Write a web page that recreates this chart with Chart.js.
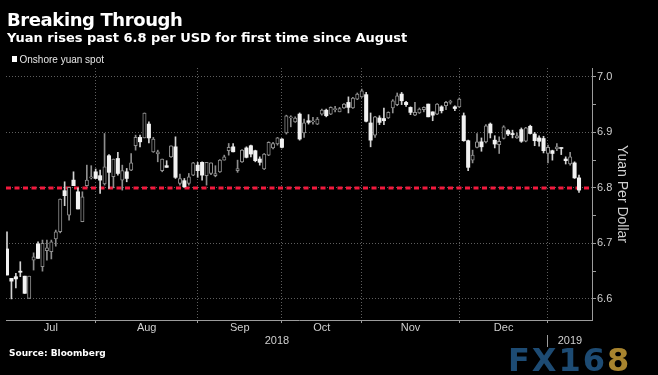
<!DOCTYPE html>
<html><head><meta charset="utf-8">
<script src="https://cdn.jsdelivr.net/npm/chart.js@4.4.1/dist/chart.umd.min.js"></script>
<style>
html,body{margin:0;padding:0;background:#000;}
#wrap{position:relative;width:658px;height:375px;background:#000;overflow:hidden;}
#c{position:absolute;left:0;top:0;}
.t{position:absolute;white-space:nowrap;color:#fff;line-height:1;}
#title{left:7px;top:10.8px;font-weight:bold;font-size:18px;font-family:"DejaVu Sans";letter-spacing:-0.4px;}
#sub{left:7px;top:30.7px;font-weight:bold;font-size:13px;font-family:"DejaVu Sans";}
#leg{left:19.5px;top:54.5px;font-size:10px;font-family:"Liberation Sans";color:#e6e6e6;}
#sq{position:absolute;left:12px;top:56px;width:5px;height:6px;background:#fff;}
#src{left:9px;top:349px;font-weight:bold;font-size:9px;font-family:"DejaVu Sans";}
#logo{left:508px;top:343.6px;font-weight:bold;font-size:32px;font-family:"DejaVu Sans";letter-spacing:2px;color:#1d4b73;}
#logo b{color:#a8842e;}
</style></head><body>
<div id="wrap">
<canvas id="c" width="658" height="375"></canvas>
<div class="t" id="title">Breaking Through</div>
<div class="t" id="sub">Yuan rises past 6.8 per USD for first time since August</div>
<div id="sq"></div>
<div class="t" id="leg">Onshore yuan spot</div>
<div class="t" id="src">Source: Bloomberg</div>
<div class="t" id="logo">FX16<b>8</b></div>
</div>
<script>
// Daily USD/CNY candles, early Jul 2018 .. mid Jan 2019 (trading-day index)
const opens = [
6.690,6.637,6.640,6.650,6.641,6.601,6.670,6.699,6.658,6.687,
6.685,6.708,6.721,6.795,6.751,6.814,6.793,6.739,6.804,6.818,
6.829,6.822,6.807,6.858,6.820,6.853,6.814,6.829,6.832,6.876,
6.891,6.890,6.915,6.865,6.861,6.831,6.840,6.856,6.874,6.808,
6.813,6.808,6.823,6.841,6.846,6.822,6.826,6.822,6.829,6.850,
6.867,6.874,6.831,6.847,6.872,6.876,6.867,6.852,6.834,6.859,
6.872,6.879,6.888,6.899,6.926,6.919,6.933,6.899,6.921,6.919,
6.915,6.933,6.940,6.933,6.941,6.937,6.944,6.954,6.944,6.960,
6.964,6.968,6.917,6.895,6.926,6.925,6.926,6.944,6.950,6.969,
6.954,6.945,6.931,6.935,6.941,6.951,6.937,6.933,6.946,6.948,
6.954,6.946,6.946,6.930,6.885,6.850,6.873,6.883,6.883,6.915,
6.886,6.878,6.889,6.903,6.898,6.890,6.905,6.884,6.911,6.897,
6.890,6.889,6.862,6.867,6.870,6.872,6.852,6.843,6.845,6.818];
const highs = [
6.721,6.637,6.646,6.667,6.641,6.641,6.683,6.703,6.706,6.706,
6.706,6.724,6.780,6.811,6.801,6.829,6.800,6.793,6.841,6.840,
6.834,6.832,6.898,6.860,6.852,6.864,6.841,6.835,6.862,6.895,
6.895,6.935,6.919,6.891,6.868,6.852,6.849,6.876,6.892,6.825,
6.817,6.826,6.846,6.846,6.847,6.846,6.845,6.840,6.851,6.859,
6.880,6.880,6.850,6.869,6.874,6.877,6.868,6.856,6.862,6.883,
6.882,6.891,6.889,6.931,6.930,6.928,6.935,6.924,6.932,6.927,
6.927,6.942,6.942,6.946,6.947,6.945,6.952,6.964,6.963,6.971,
6.978,6.972,6.935,6.929,6.930,6.944,6.937,6.959,6.971,6.972,
6.956,6.946,6.954,6.944,6.946,6.951,6.937,6.952,6.948,6.956,
6.958,6.948,6.962,6.935,6.886,6.868,6.898,6.890,6.914,6.917,
6.894,6.892,6.912,6.905,6.904,6.899,6.908,6.909,6.913,6.900,
6.894,6.893,6.877,6.868,6.880,6.872,6.856,6.864,6.847,6.823];
const lows = [
6.643,6.600,6.620,6.640,6.610,6.601,6.652,6.673,6.650,6.670,
6.672,6.695,6.719,6.768,6.742,6.804,6.762,6.739,6.803,6.816,
6.817,6.790,6.805,6.799,6.800,6.823,6.796,6.811,6.831,6.868,
6.874,6.890,6.881,6.864,6.847,6.829,6.837,6.855,6.817,6.805,
6.801,6.805,6.822,6.819,6.814,6.805,6.824,6.820,6.828,6.850,
6.859,6.865,6.828,6.846,6.854,6.856,6.847,6.841,6.833,6.858,
6.870,6.877,6.872,6.897,6.910,6.918,6.886,6.891,6.915,6.915,
6.914,6.931,6.928,6.932,6.937,6.937,6.943,6.935,6.943,6.959,
6.963,6.919,6.874,6.891,6.914,6.914,6.925,6.935,6.948,6.950,
6.947,6.932,6.930,6.934,6.937,6.928,6.921,6.932,6.935,6.941,
6.951,6.939,6.945,6.884,6.831,6.845,6.872,6.866,6.881,6.890,
6.872,6.862,6.888,6.894,6.890,6.889,6.882,6.883,6.897,6.876,
6.875,6.863,6.845,6.850,6.867,6.860,6.843,6.841,6.817,6.792];
const closes = [
6.643,6.632,6.636,6.648,6.610,6.641,6.676,6.673,6.700,6.692,
6.703,6.721,6.780,6.786,6.801,6.804,6.762,6.784,6.814,6.819,
6.817,6.814,6.838,6.828,6.852,6.826,6.831,6.817,6.845,6.891,
6.883,6.935,6.890,6.888,6.865,6.852,6.837,6.876,6.819,6.817,
6.802,6.820,6.845,6.831,6.823,6.846,6.845,6.826,6.850,6.856,
6.873,6.865,6.835,6.868,6.855,6.861,6.849,6.846,6.861,6.882,
6.880,6.890,6.873,6.930,6.928,6.926,6.888,6.917,6.918,6.920,
6.924,6.940,6.930,6.945,6.942,6.943,6.951,6.945,6.962,6.969,
6.975,6.920,6.886,6.928,6.918,6.921,6.936,6.957,6.966,6.957,
6.950,6.936,6.936,6.942,6.945,6.928,6.931,6.951,6.939,6.954,
6.955,6.943,6.960,6.885,6.837,6.859,6.883,6.874,6.912,6.899,
6.879,6.884,6.910,6.897,6.896,6.894,6.884,6.908,6.898,6.885,
6.884,6.867,6.873,6.862,6.874,6.871,6.849,6.856,6.818,6.796];

const monthNames = ['Jul','Aug','Sep','Oct','Nov','Dec'];
const monthStartIdx = [20, 43, 62, 80, 102, 122];   // first trading day of Aug..Jan
const yearLabels = ['2018', '2019'];
const yMajorTicks = [6.6, 6.7, 6.8, 6.9, 7.0];
const yMinorTicks = [6.65, 6.75, 6.85, 6.95];
const threshold = 6.8;
const seriesName = 'Onshore yuan spot';

const X_MIN = -0.2255, X_MAX = 131.93;
const Y_MIN = 6.562, Y_MAX = 7.016;

const idx = opens.map((_, i) => i);
const isUp = idx.map(i => closes[i] >= opens[i]);
const wickData = idx.map(i => ({x: i, y: [lows[i], highs[i]]}));
const bodyData = idx.map(i => ({x: i, y: [opens[i], closes[i]]}));

const bounds = [X_MIN].concat(monthStartIdx);
const monthLabelPos = monthNames.map((_, i) => (bounds[i] + bounds[i + 1]) / 2);
const yearBreak = monthStartIdx[monthStartIdx.length - 1];
const yearTickVals = [(X_MIN + yearBreak) / 2, yearBreak, (yearBreak + X_MAX) / 2];
const yearTickText = [yearLabels[0], '', yearLabels[1]];
const yAllTicks = yMajorTicks.concat(yMinorTicks).sort((a, b) => a - b);
const isMajor = v => yMajorTicks.some(m => Math.abs(m - v) < 1e-6);

const GRID = '#5e5e5e', AXIS = '#9c9c9c', TXT = '#cfcfcf';
const FONT = "'Liberation Sans', Arial, sans-serif";
const NARROW = "'Liberation Sans Narrow', 'Liberation Sans', Arial, sans-serif";

new Chart(document.getElementById('c'), {
  type: 'bar',
  data: {
    datasets: [
      {type: 'bar', label: seriesName + ' range', data: wickData, xAxisID: 'x', yAxisID: 'y',
       barThickness: 1, grouped: false, borderWidth: 0,
       backgroundColor: isUp.map(u => u ? '#8e8e8e' : '#d2d2d2'), order: 2},
      {type: 'bar', label: seriesName, data: bodyData, xAxisID: 'x', yAxisID: 'y',
       barThickness: 3.4, grouped: false, minBarLength: 1, borderSkipped: false,
       backgroundColor: isUp.map(u => u ? '#000000' : '#f2f2f2'),
       borderColor: isUp.map(u => u ? '#8e8e8e' : '#f2f2f2'),
       borderWidth: isUp.map(u => u ? 1 : 0), order: 1},
      {type: 'line', label: '6.8', data: [{x: X_MIN, y: threshold}, {x: X_MAX, y: threshold}],
       xAxisID: 'x', yAxisID: 'y', borderColor: '#f2193d', borderWidth: 3, borderDash: [5, 3.5],
       pointRadius: 0, fill: false, order: 3}
    ]
  },
  options: {
    responsive: false, animation: false, events: [],
    layout: {padding: {top: 68, left: 6, right: 0, bottom: 20}, autoPadding: false},
    plugins: {legend: {display: false}, tooltip: {enabled: false}, title: {display: false}},
    scales: {
      x: {type: 'linear', position: 'bottom', min: X_MIN, max: X_MAX, offset: false, weight: 0,
          afterBuildTicks: s => { s.ticks = monthStartIdx.map(v => ({value: v})); },
          afterFit: s => { s.height = 1; },
          grid: {display: true, offset: false, color: GRID, lineWidth: 1, drawOnChartArea: true,
                 drawTicks: true, tickLength: 3, tickColor: AXIS, tickBorderDash: []},
          border: {display: true, color: AXIS, width: 1, dash: [1, 2]},
          ticks: {display: false}},
      xm: {type: 'linear', position: 'bottom', min: X_MIN, max: X_MAX, offset: false, weight: 1,
           afterBuildTicks: s => { s.ticks = monthLabelPos.map(v => ({value: v})); },
           afterFit: s => { s.height = 14; },
           grid: {display: false, drawTicks: false, offset: false},
           border: {display: false},
           ticks: {color: TXT, font: {family: NARROW, size: 11, lineHeight: 1.2}, padding: 0,
                   maxRotation: 0, autoSkip: false, callback: (v, i) => monthNames[i]}},
      xy: {type: 'linear', position: 'bottom', min: X_MIN, max: X_MAX, offset: false, weight: 2,
           afterBuildTicks: s => { s.ticks = yearTickVals.map(v => ({value: v})); },
           afterFit: s => { s.height = 20; },
           grid: {display: true, drawOnChartArea: false, drawTicks: true, tickLength: 12, offset: false,
                  color: 'rgba(0,0,0,0)',
                  tickColor: ctx => ctx.index === 1 ? AXIS : 'rgba(0,0,0,0)'},
           border: {display: false},
           ticks: {color: TXT, font: {family: NARROW, size: 11, lineHeight: 1.2}, padding: -12.9,
                   maxRotation: 0, autoSkip: false, callback: (v, i) => yearTickText[i]}},
      y: {type: 'linear', position: 'right', min: Y_MIN, max: Y_MAX,
          afterBuildTicks: s => { s.ticks = yAllTicks.map(v => ({value: v})); },
          afterFit: s => { s.width = 66; },
          grid: {color: ctx => (ctx.tick && isMajor(ctx.tick.value)) ? GRID : 'rgba(0,0,0,0)',
                 tickColor: AXIS, tickLength: 4, drawTicks: true, lineWidth: 1, tickBorderDash: []},
          border: {display: true, color: AXIS, width: 1, dash: [1, 2]},
          ticks: {color: TXT, font: {family: FONT, size: 11, lineHeight: 1.2}, padding: 1, autoSkip: false,
                  callback: v => isMajor(v) ? v.toFixed(1) : ''},
          title: {display: true, text: 'Yuan Per Dollar', color: TXT,
                  font: {family: FONT, size: 14, lineHeight: 1.2}, padding: {top: 28, bottom: 0}}}
    }
  }
});
</script>
</body></html>
